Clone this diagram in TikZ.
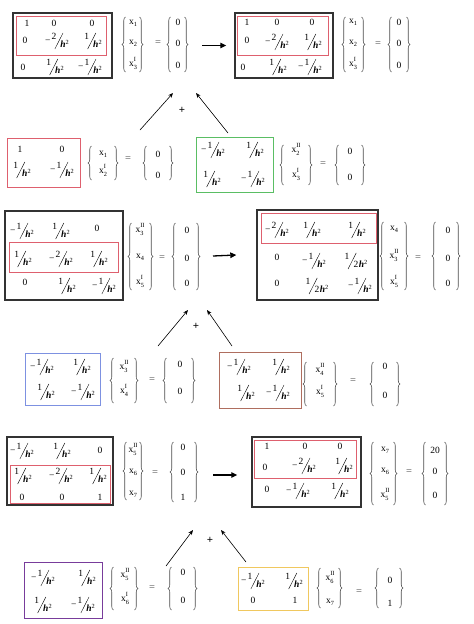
\documentclass[tikz,border=0pt]{standalone}
\usepackage{fontspec}
\setmainfont{Liberation Serif}
\usepackage{graphicx}
\usetikzlibrary{fit,decorations.pathreplacing,arrows.meta}
\definecolor{cred}{RGB}{222,96,110}
\definecolor{cgreen}{RGB}{90,190,100}
\definecolor{cblue}{RGB}{125,145,225}
\definecolor{cbrown}{RGB}{175,110,95}
\definecolor{cpurple}{RGB}{120,60,155}
\definecolor{cyellow}{RGB}{240,200,95}
\newcommand\ssz{\fontsize{6.3}{7}\selectfont}
\newcommand\hh{\textbf{\textit{h}}\raisebox{3.6pt}{\ssz 2}}
\newcommand\sfr[2]{\raisebox{3.8pt}{#1}\kern-1.6pt\raisebox{-6pt}{\rotatebox{63}{\rule{18pt}{0.4pt}}}\kern-2.8pt\raisebox{-4.6pt}{#2}}
\newcommand\mn{−\kern1pt}
\newcommand\oneh{\sfr{1}{\hh}}
\newcommand\twoh{\sfr{2}{\hh}}
\newcommand\halfh{\sfr{1}{2\kern0.5pt\hh}}
\newcommand\xs[1]{x\raisebox{-2.2pt}{\ssz#1}}
\newcommand\xp[2]{x\raisebox{-2.4pt}{\ssz\renewcommand\arraystretch{1}\begin{tabular}[b]{@{}l@{}}#2\\[0.3pt]#1\end{tabular}}}
\newcounter{nn}
\newcommand\ent[3][]{\stepcounter{nn}\node[ent,#1] (n\arabic{nn}) at (#2) {#3};}
\newcommand\bx[6]{\node[fit={(#2,#3) (#4,#5)}, inner sep=0pt, #6] (#1) {};}
\newcommand\vb[4]{\draw[br] ({#1+3.5},#4) -- ({#1+3.5},#3); \draw[br] ({#2-3.5},#3) -- ({#2-3.5},#4);}
\begin{document}
\begin{tikzpicture}[x=1pt,y=-1pt,
 ent/.style={inner sep=0pt, font=\fontsize{9.5}{11}\selectfont},
 outer/.style={draw=black!80, line width=1.4pt},
 inner/.style={draw=cred, line width=0.8pt},
 br/.style={decorate, decoration={brace, amplitude=3.5pt}, draw=black!70, line width=0.55pt},
 harr/.style={line width=1.3pt, -{Triangle[length=6pt,width=5.5pt]}},
 darr/.style={line width=0.6pt, -{Stealth[length=5pt,width=4pt]}},
 eq/.style={text=black!70, font=\fontsize{10.5}{12}\selectfont},
 plus/.style={inner sep=0pt, font=\bfseries\fontsize{11}{12}\selectfont}]
\useasboundingbox (0,0) rectangle (474,624);
% ---------- row 1 left
\bx{A1}{13}{13}{112}{78}{outer}
\bx{A1r}{16}{16}{106}{55}{inner}
\ent{27,23}{1} \ent{54,23}{0} \ent{92,23}{0}
\ent{25,40}{0} \ent{57,41}{\mn\twoh} \ent{93,41}{\oneh}
\ent{23,67}{0} \ent{55,67}{\oneh} \ent{90,67}{\mn\oneh}
\vb{122}{143}{17}{72}
\ent{133,23}{\xs1} \ent{133,43}{\xs2} \ent{133,64}{\xp3I}
\ent[eq]{158,43}{=}
\vb{167}{188}{17}{72}
\ent{178,22}{0} \ent{178,43}{0} \ent{178,65}{0}
% ---------- row 1 right
\bx{B1}{235}{13}{333}{78}{outer}
\bx{B1r}{237}{16}{328}{55}{inner}
\ent{247,22}{1} \ent{277,22}{0} \ent{312,22}{0}
\ent{247,40}{0} \ent{277,42}{\mn\twoh} \ent{313,42}{\oneh}
\ent{243,67}{0} \ent{278,67}{\oneh} \ent{310,67}{\mn\oneh}
\vb{342}{365}{17}{72}
\ent{353,22}{\xs1} \ent{353,43}{\xs2} \ent{353,64}{\xp3I}
\ent[eq]{378,44}{=}
\vb{388}{410}{17}{72}
\ent{399,22}{0} \ent{399,43}{0} \ent{399,65}{0}
\coordinate (h1) at (202,45.5);
\draw[harr] (h1) -- ([xshift=-8pt]B1.west);
% ---------- row 2
\bx{C}{7}{138}{80}{187}{draw=cred, line width=0.8pt}
\ent{20,149}{1} \ent{62,149}{0}
\ent{22,170}{\oneh} \ent{62,170}{\mn\oneh}
\vb{88}{118}{146}{180}
\ent{103,154}{\xs1} \ent{103,171}{\xp2I}
\ent[eq]{128,159}{=}
\vb{143}{173}{146}{180}
\ent{158,154}{0} \ent{158,175}{0}
\bx{D}{196}{137}{273}{192}{draw=cgreen, line width=0.8pt}
\ent{213,150}{\mn\oneh} \ent{255,150}{\oneh}
\ent{212,179}{\oneh} \ent{253,179}{\mn\oneh}
\vb{280}{312}{145}{185}
\ent{296,150}{\xp2{II}} \ent{296,175}{\xp3I}
\ent[eq]{323,164}{=}
\vb{335}{365}{145}{185}
\ent{350,151}{0} \ent{350,177}{0}
\node[plus] (p1) at (182,110) {+};
\coordinate (a1s) at (140,130); \coordinate (a1e) at (173,93);
\coordinate (a2s) at (228,133); \coordinate (a2e) at (196,93);
\draw[darr] (a1s) -- (a1e);
\draw[darr] (a2s) -- (a2e);
% ---------- row 3 left
\bx{E}{5}{211}{123}{300}{outer}
\bx{Er}{9}{242}{118}{272}{inner}
\ent{22,231}{\mn\oneh} \ent{61,231}{\oneh} \ent{97,228}{0}
\ent{23,259}{\oneh} \ent{61,259}{\mn\twoh} \ent{99,259}{\oneh}
\ent{25,282}{0} \ent{67,286}{\oneh} \ent{104,286}{\mn\oneh}
\vb{128}{153}{223}{290}
\ent{140,230}{\xp3{II}} \ent{140,257}{\xs4} \ent{140,282}{\xp5I}
\ent[eq]{162,258}{=}
\vb{172}{200}{223}{290}
\ent{187,230}{0} \ent{187,258}{0} \ent{187,283}{0}
% ---------- row 3 right
\bx{F}{257}{210}{378}{300}{outer}
\bx{Fr}{261}{213}{376}{243}{inner}
\ent{277,230}{\mn\twoh} \ent{312,230}{\oneh} \ent{357,230}{\oneh}
\ent{277,257}{0} \ent{314,261}{\mn\oneh} \ent{356,261}{\halfh}
\ent{277,283}{0} \ent{317,286}{\halfh} \ent{360,286}{\mn\oneh}
\vb{380}{408}{222}{290}
\ent{394,229}{\xs4} \ent{394,256}{\xp3{II}} \ent{394,282}{\xp5I}
\ent[eq]{418,258}{=}
\vb{432}{460}{222}{290}
\ent{448,230}{0} \ent{448,258}{0} \ent{448,283}{0}
\coordinate (h2) at (213,256);
\draw[harr] (h2) -- ([xshift=-20pt]F.west);
% ---------- row 4
\bx{G}{25}{353}{100}{405}{draw=cblue, line width=0.8pt}
\ent{42,367}{\mn\oneh} \ent{82,367}{\oneh}
\ent{46,392}{\oneh} \ent{83,392}{\mn\oneh}
\vb{110}{138}{358}{403}
\ent{124,367}{\xp3{II}} \ent{124,391}{\xp4I}
\ent[eq]{152,380}{=}
\vb{163}{195}{358}{403}
\ent{180,364}{0} \ent{180,391}{0}
\bx{H}{219}{352}{301}{408}{draw=cbrown, line width=0.8pt}
\ent{239,367}{\mn\oneh} \ent{281,367}{\oneh}
\ent{246,393}{\oneh} \ent{278,393}{\mn\oneh}
\vb{303}{337}{362}{406}
\ent{320,370}{\xp4{II}} \ent{320,392}{\xp5I}
\ent[eq]{353,381}{=}
\vb{370}{400}{362}{406}
\ent{385,366}{0} \ent{385,395}{0}
\node[plus] (p2) at (196,326) {+};
\coordinate (a3s) at (158,346); \coordinate (a3e) at (188,310);
\coordinate (a4s) at (232,346); \coordinate (a4e) at (207,310);
\draw[darr] (a3s) -- (a3e);
\draw[darr] (a4s) -- (a4e);
% ---------- row 5 left
\bx{I}{7}{437}{113}{505}{outer}
\bx{Ir}{10}{465}{110}{503}{inner}
\ent{22,451}{\mn\oneh} \ent{62,451}{\oneh} \ent{100,450}{0}
\ent{23,476}{\oneh} \ent{61,476}{\mn\twoh} \ent{98,476}{\oneh}
\ent{22,497}{0} \ent{62,497}{0} \ent{100,497}{1}
\vb{123}{143}{442}{500}
\ent{133,450}{\xp5{II}} \ent{133,472}{\xs6} \ent{133,494}{\xs7}
\ent[eq]{155,473}{=}
\vb{170}{198}{442}{502}
\ent{183,447}{0} \ent{183,472}{0} \ent{183,497}{1}
% ---------- row 5 right
\bx{J}{252}{437}{361}{507}{outer}
\bx{Jr}{254}{440}{356}{478}{inner}
\ent{267,446}{1} \ent{305,446}{0} \ent{340,446}{0}
\ent{265,467}{0} \ent{304,466}{\mn\twoh} \ent{344,466}{\oneh}
\ent{267,489}{0} \ent{298,491}{\mn\oneh} \ent{340,491}{\oneh}
\vb{370}{397}{442}{505}
\ent{385,450}{\xs7} \ent{385,471}{\xs6} \ent{385,495}{\xp5{II}}
\ent[eq]{409,472}{=}
\vb{422}{448}{442}{505}
\ent{435,450}{20} \ent{435,471}{0} \ent{435,495}{0}
\coordinate (h3) at (213,475);
\draw[harr] (h3) -- ([xshift=-14pt]J.west |- h3);
% ---------- row 6
\bx{K}{24}{562}{102}{618}{draw=cpurple, line width=0.9pt}
\ent{43,578}{\mn\oneh} \ent{87,578}{\oneh}
\ent{43,605}{\oneh} \ent{83,605}{\mn\oneh}
\vb{110}{138}{567}{610}
\ent{125,575}{\xp5{II}} \ent{125,599}{\xp6I}
\ent[eq]{152,588}{=}
\vb{168}{197}{567}{610}
\ent{183,572}{0} \ent{183,600}{0}
\bx{L}{238}{567}{308}{610}{draw=cyellow, line width=0.8pt}
\ent{253,581}{\mn\oneh} \ent{294,581}{\oneh}
\ent{253,600}{0} \ent{295,600}{1}
\vb{317}{342}{568}{608}
\ent{330,578}{\xp6{II}} \ent{330,602}{\xs7}
\ent[eq]{359,592}{=}
\vb{375}{403}{568}{608}
\ent{390,580}{0} \ent{390,603}{1}
\node[plus] (p3) at (210,540) {+};
\coordinate (a5s) at (166,566); \coordinate (a5e) at (193,530);
\coordinate (a6s) at (246,562); \coordinate (a6e) at (221,530);
\draw[darr] (a5s) -- (a5e);
\draw[darr] (a6s) -- (a6e);
\end{tikzpicture}
\end{document}
